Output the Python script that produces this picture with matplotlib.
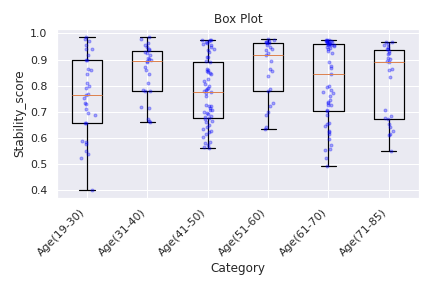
import numpy as np
import matplotlib
matplotlib.use("Agg")
import matplotlib.pyplot as plt
import seaborn as sns

sns.set_theme()

categories = ["Age(19-30)", "Age(31-40)", "Age(41-50)", "Age(51-60)", "Age(61-70)", "Age(71-85)"]

age_19_30 = [0.402, 0.525, 0.541, 0.550, 0.578, 0.587, 0.590, 0.657, 0.658,
             0.688, 0.697, 0.713, 0.731, 0.734, 0.752, 0.764, 0.768,
             0.793, 0.801, 0.811, 0.844, 0.859, 0.863, 0.897, 0.899,
             0.918, 0.939, 0.940, 0.955, 0.971, 0.980, 0.988]
age_31_40 = [0.660, 0.666, 0.675, 0.714, 0.720, 0.779, 0.781, 0.783,
             0.811, 0.844, 0.860, 0.871, 0.890, 0.893,
             0.899, 0.903, 0.906, 0.918, 0.924, 0.930, 0.936,
             0.942, 0.949, 0.955, 0.963, 0.979, 0.988]
age_41_50 = [0.564, 0.566, 0.574, 0.580, 0.587, 0.605, 0.617, 0.623, 0.629, 0.636,
             0.642, 0.652, 0.660, 0.666, 0.673, 0.676,
             0.679, 0.685, 0.691, 0.697, 0.701, 0.706, 0.709, 0.715, 0.721, 0.724,
             0.728, 0.762, 0.771, 0.777, 0.779,
             0.783, 0.789, 0.793, 0.801, 0.807, 0.820, 0.826, 0.844, 0.848, 0.853,
             0.856, 0.860, 0.866, 0.892, 0.894,
             0.909, 0.912, 0.930, 0.936, 0.942, 0.948, 0.955, 0.960, 0.963, 0.967,
             0.971, 0.974, 0.977, 0.977]
age_51_60 = [0.634, 0.642, 0.688, 0.701, 0.724, 0.734, 0.782, 0.789, 0.838,
             0.856, 0.866, 0.893, 0.918, 0.926, 0.936, 0.942, 0.948, 0.955,
             0.962, 0.963, 0.967, 0.967, 0.971, 0.975, 0.980]
age_61_70 = [0.494, 0.525, 0.553, 0.558, 0.574, 0.595, 0.617, 0.623, 0.629, 0.648,
             0.654, 0.658, 0.688, 0.704,
             0.706, 0.725, 0.728, 0.734, 0.740, 0.746, 0.762, 0.771, 0.777, 0.785,
             0.795, 0.801, 0.844,
             0.869, 0.877, 0.890, 0.924, 0.934, 0.939, 0.946, 0.948, 0.952, 0.955,
             0.956, 0.957, 0.958,
             0.960, 0.961, 0.963, 0.964, 0.966, 0.967, 0.969, 0.971, 0.972, 0.973,
             0.975, 0.977, 0.977]
age_71_85 = [0.550, 0.611, 0.617, 0.629, 0.642, 0.654, 0.672, 0.676, 0.685,
             0.706, 0.834, 0.860, 0.863, 0.890, 0.893, 0.902, 0.906, 0.921,
             0.926, 0.934, 0.939, 0.942, 0.948, 0.955, 0.961, 0.969, 0.969]

data = [age_19_30, age_31_40, age_41_50, age_51_60, age_61_70, age_71_85]

fig, ax = plt.subplots(figsize=(6, 4), dpi=72)
ax.boxplot(data, widths=0.5,
           boxprops=dict(linewidth=1.2), whiskerprops=dict(linewidth=1.2),
           capprops=dict(linewidth=1.2))
rng = np.random.default_rng(3)
for i, vals in enumerate(data):
    x = rng.normal(i + 1, 0.04, size=len(vals))
    ax.plot(x, vals, '.', color='#0000ff', alpha=0.3)

ax.set_xticks(range(1, len(categories) + 1))
ax.set_xticklabels(categories, rotation=45, ha='right')
ax.set_title("Box Plot")
ax.set_xlabel("Category")
ax.set_ylabel("Stability_score")
fig.tight_layout()
fig.savefig("out.png")
